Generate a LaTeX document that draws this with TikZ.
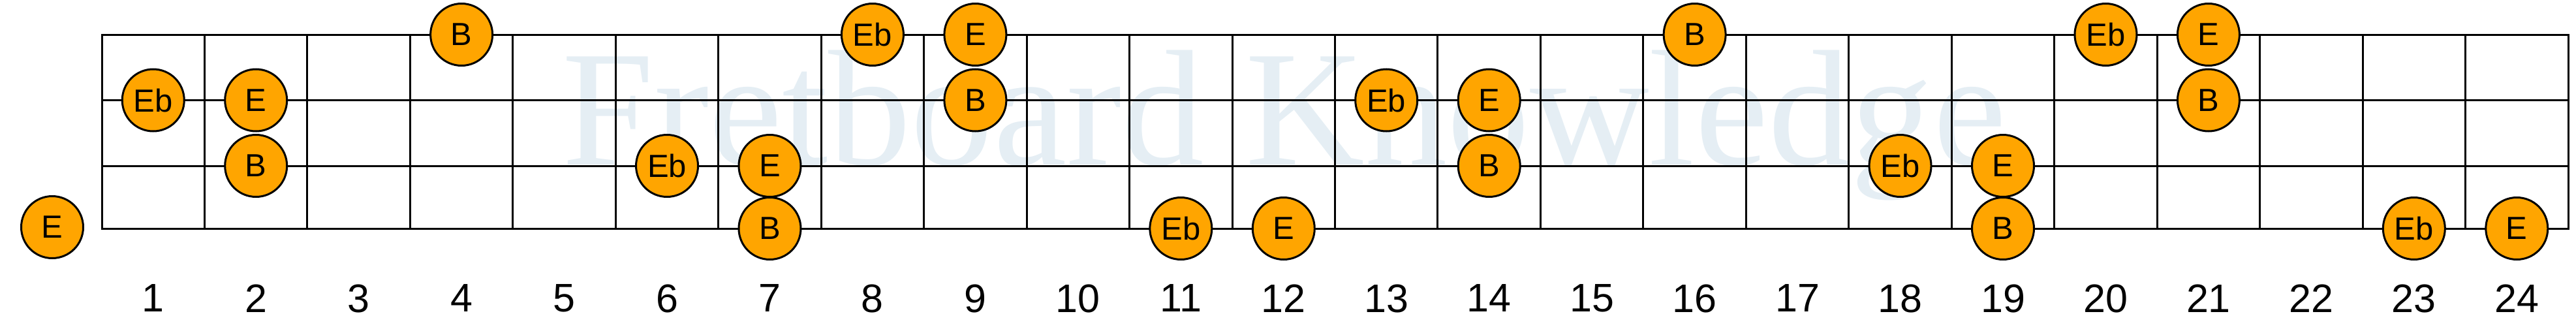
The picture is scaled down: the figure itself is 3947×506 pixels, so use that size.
\documentclass[tikz,border=0pt]{standalone}
\usepackage{fontspec}
\setmainfont{Liberation Sans}
\newfontfamily\wmfont{Liberation Serif}
\definecolor{noteorange}{HTML}{FFA500}
\definecolor{wmblue}{HTML}{E5EEF4}
\begin{document}
\begin{tikzpicture}[x=1pt,y=-1pt,
  note/.style={circle,draw=black,line width=3pt,fill=noteorange,minimum size=95pt,inner sep=0pt,font=\fontsize{49}{49}\selectfont},
  fretnum/.style={font=\fontsize{61}{61}\selectfont},
  gridline/.style={line width=3pt,draw=black,line cap=rect},
  watermark/.style={text=wmblue,font=\wmfont\fontsize{253}{253}\selectfont,anchor=base,inner sep=0pt}]
\useasboundingbox (0,0) rectangle (3947,506);
\node[watermark] (wm) at (1968,252) {Fretboard Knowledge};
% frets
\foreach \i in {0,...,24}
  \draw[gridline] ({156+\i*157.458},53) -- ({156+\i*157.458},350);
% strings
\foreach \y in {53,153.5,254,350}
  \draw[gridline] (156,\y) -- (3935,\y);
% fret numbers
\foreach \i in {1,...,24}
  \node[fretnum] (num\i) at ({156+(\i-0.5)*157.458},457) {\i};
% notes: G string
\foreach \f/\n in {4/B,8/Eb,9/E,16/B,20/Eb,21/E}
  \node[note] (g\f) at ({156+(\f-0.5)*157.458},53) {\n};
% D string
\foreach \f/\n in {1/Eb,2/E,9/B,13/Eb,14/E,21/B}
  \node[note] (d\f) at ({156+(\f-0.5)*157.458},153.5) {\n};
% A string
\foreach \f/\n in {2/B,6/Eb,7/E,14/B,18/Eb,19/E}
  \node[note] (a\f) at ({156+(\f-0.5)*157.458},254) {\n};
% E string
\foreach \f/\n in {7/B,11/Eb,12/E,19/B,23/Eb,24/E}
  \node[note] (e\f) at ({156+(\f-0.5)*157.458},350) {\n};
\node[note] (e0) at (80,348) {E};
\end{tikzpicture}
\end{document}
